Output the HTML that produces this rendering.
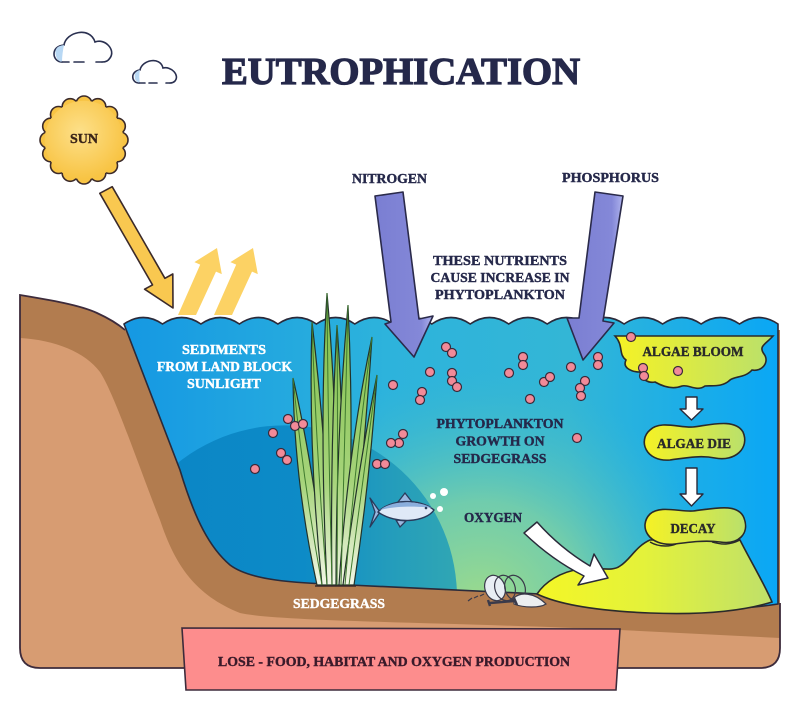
<!DOCTYPE html>
<html><head><meta charset="utf-8"><style>
html,body{margin:0;padding:0;background:#fff;width:800px;height:720px;overflow:hidden;position:relative}
svg{display:block;position:absolute;left:0;top:0}
text{font-family:"Liberation Serif",serif;font-weight:bold}
</style></head><body>
<svg width="800" height="720" viewBox="0 0 800 720" xmlns="http://www.w3.org/2000/svg">
<defs>
<linearGradient id="wbase" x1="124" y1="0" x2="778" y2="0" gradientUnits="userSpaceOnUse">
<stop offset="0" stop-color="#1598e3"/><stop offset="0.4" stop-color="#2db3dc"/><stop offset="0.68" stop-color="#33b6d6"/><stop offset="1" stop-color="#0aa7f5"/>
</linearGradient>
<radialGradient id="wgreen" cx="480" cy="610" r="240" gradientUnits="userSpaceOnUse">
<stop offset="0" stop-color="#a6de84" stop-opacity="0.95"/><stop offset="0.45" stop-color="#8cd69a" stop-opacity="0.7"/><stop offset="1" stop-color="#40bcc8" stop-opacity="0"/>
</radialGradient>
<linearGradient id="dark" x1="120" y1="0" x2="455" y2="0" gradientUnits="userSpaceOnUse">
<stop offset="0" stop-color="#0a84c6"/><stop offset="0.55" stop-color="#0d8bc7"/><stop offset="0.8" stop-color="#239cbc"/><stop offset="1" stop-color="#30a6b4"/>
</linearGradient>
<linearGradient id="yg" x1="0" y1="0" x2="1" y2="0">
<stop offset="0" stop-color="#f6f224"/><stop offset="1" stop-color="#b9e06c"/>
</linearGradient>
<linearGradient id="mound" x1="537" y1="0" x2="772" y2="0" gradientUnits="userSpaceOnUse">
<stop offset="0" stop-color="#f4f626"/><stop offset="0.45" stop-color="#e4f23a"/><stop offset="1" stop-color="#bfe06a"/>
</linearGradient>
<linearGradient id="blade" x1="0" y1="290" x2="0" y2="585" gradientUnits="userSpaceOnUse">
<stop offset="0" stop-color="#7fbf4a"/><stop offset="0.65" stop-color="#a6d47a"/><stop offset="1" stop-color="#f2f6e6"/>
</linearGradient>
<radialGradient id="sun" cx="0.45" cy="0.4" r="0.6">
<stop offset="0" stop-color="#fde08a"/><stop offset="1" stop-color="#f8c444"/>
</radialGradient>
<linearGradient id="purp" x1="0" y1="0" x2="1" y2="0">
<stop offset="0" stop-color="#7a7ed2"/><stop offset="0.8" stop-color="#8488d8"/><stop offset="1" stop-color="#b0b4ee"/>
</linearGradient>
<clipPath id="wclip"><path id="wp" d="M124,324 Q143.2,311 162.5,324 Q181.7,311 200.9,324 Q220.2,311 239.4,324 Q258.6,311 277.9,324 Q297.1,311 316.4,324 Q335.6,311 354.8,324 Q374.1,311 393.3,324 Q412.5,311 431.8,324 Q451,311 470.2,324 Q489.5,311 508.7,324 Q527.9,311 547.2,324 Q566.4,311 585.6,324 Q604.9,311 624.1,324 Q643.3,311 662.6,324 Q681.8,311 701.1,324 Q720.3,311 739.5,324 Q758.8,311 778,324 L778,604 Q690,618 540,594 L350,585 C290,583 250,580 230,565 C210,548 195,520 180,470 Z"/></clipPath>
</defs>

<!-- clouds -->
<g fill="#fff" stroke="#2a3050" stroke-width="1.6" stroke-linecap="round">
<path d="M62,62 C52,62 50,46 64,45 C66,32 90,26 95,42 C105,38 116,50 110,58 C108,61 106,62 102,62" />
<path d="M56,56 C54,48 58,46 64,45 C63,50 62,56 62,62 C58,61 57,59 56,56Z" fill="#b8d8f4" stroke="none"/>
<path d="M62,62 L69,62 M74,62 L84,62 M96,62 L102,62" fill="none"/>
<path d="M139,83 C131,83 130,71 140,70 C142,60 160,56 163,68 C171,66 180,75 175,81 C174,82 173,83 170,83"/>
<path d="M135,79 C134,73 136,71 140,70 C139,74 139,79 140,83 C137,82 136,81 135,79Z" fill="#b8d8f4" stroke="none"/>
<path d="M139,83 L145,83 M149,83 L157,83 M166,83 L170,83" fill="none"/>
</g>

<!-- title -->
<text x="401" y="84" font-size="38" fill="#25284a" stroke="#25284a" stroke-width="1.3" text-anchor="middle" textLength="358" lengthAdjust="spacingAndGlyphs">EUTROPHICATION</text>

<!-- sun -->
<g fill="#f8c444" stroke="#3b2a2a" stroke-width="1.6">
<circle cx="120" cy="140" r="8"/><circle cx="117.3" cy="153.8" r="8"/><circle cx="109.5" cy="165.5" r="8"/><circle cx="97.8" cy="173.3" r="8"/>
<circle cx="84" cy="176" r="8"/><circle cx="70.2" cy="173.3" r="8"/><circle cx="58.5" cy="165.5" r="8"/><circle cx="50.7" cy="153.8" r="8"/>
<circle cx="48" cy="140" r="8"/><circle cx="50.7" cy="126.2" r="8"/><circle cx="58.5" cy="114.5" r="8"/><circle cx="70.2" cy="106.7" r="8"/>
<circle cx="84" cy="104" r="8"/><circle cx="97.8" cy="106.7" r="8"/><circle cx="109.5" cy="114.5" r="8"/><circle cx="117.3" cy="126.2" r="8"/>
</g>
<circle cx="84" cy="140" r="39.3" fill="url(#sun)"/>
<text x="84" y="143" font-size="14" fill="#3a2418" stroke="#3a2418" stroke-width="0.4" text-anchor="middle">SUN</text>

<!-- sun arrow -->
<polygon points="99.8,193.3 112.2,186.7 164.9,278.3 172.8,274 173,308 144.6,289.2 152.5,284.9" fill="#f9c850" stroke="#3b2a2a" stroke-width="1.6" stroke-linejoin="round"/>
<!-- up arrows -->
<polygon points="178,315 200.2,264.6 194.4,262.1 217,248 221.8,274.1 216,271.6 196,315" fill="#fcd264"/>
<polygon points="214,315 236.2,264.6 230.4,262.1 253,248 257.8,274.1 252,271.6 232,315" fill="#fcd264"/>

<!-- land -->
<path d="M20,295 C50,300 80,305 97,313 C108,318 118,324 125,330 L780,330 L780,648 Q780,668 760,668 L40,668 Q20,668 20,648 Z" fill="#b27c4f"/>
<path d="M20,338 C55,340 85,352 100,372 C115,395 140,470 160,520 C175,565 195,595 240,613 C280,622 450,622 620,630 L780,638 L780,648 Q780,668 760,668 L40,668 Q20,668 20,648 Z" fill="#d79c72"/>

<!-- water -->
<g clip-path="url(#wclip)">
<rect x="110" y="305" width="680" height="315" fill="url(#wbase)"/>
<rect x="110" y="305" width="680" height="315" fill="url(#wgreen)"/>
<path d="M114.5,620 A172,172 0 1 1 455.5,620 Z" fill="url(#dark)"/>
</g>
<use href="#wp" fill="none" stroke="#2a2a3a" stroke-width="1.6"/>

<!-- land outline -->
<path d="M125,330 C118,324 108,318 97,313 C80,305 50,300 20,295 L20,648 Q20,668 40,668 L760,668 Q780,668 780,648 L780,603" fill="none" stroke="#3d2b3b" stroke-width="1.8"/>

<!-- nitrogen / phosphorus arrows -->
<polygon points="375,196 403,192 419,319 433,316 414,357 385,324 391,322" fill="url(#purp)" stroke="#2a2a4a" stroke-width="1.6" stroke-linejoin="round"/>
<polygon points="595,192 623,196 603,321 614,323 583,360 567,318 579,318" fill="url(#purp)" stroke="#2a2a4a" stroke-width="1.6" stroke-linejoin="round"/>

<!-- mound -->
<path d="M537,594 C545,582 560,572 580,569 C600,567 612,572 620,566 C630,560 636,546 650,540 L740,540 C750,560 765,585 772,602 C740,612 700,615 650,613 C600,611 560,605 537,594 Z" fill="url(#mound)" stroke="#2a2a2a" stroke-width="1.6"/>

<!-- algae boxes -->
<path d="M615,336 L773,336 C766,344 758,346 764,354 C770,362 762,372 752,370 C745,378 735,376 730,380 C722,388 710,385 705,386 C697,392 688,384 682,386 C672,390 662,386 655,382 C645,384 640,375 640,372 C632,372 622,368 626,360 C618,354 624,346 615,336 Z" fill="url(#yg)" stroke="#2a2a2a" stroke-width="1.6"/>
<path d="M650,430 C660,420 680,428 693,427 C710,425 735,418 743,432 C750,448 735,462 715,458 C700,455 685,458 670,460 C645,462 638,440 650,430 Z" fill="url(#yg)" stroke="#2a2a2a" stroke-width="1.6"/>
<path d="M650,514 C660,505 680,512 693,511 C712,509 738,502 744,518 C750,534 738,545 720,542 C705,540 690,542 675,544 C648,547 638,526 650,514 Z" fill="url(#yg)" stroke="#2a2a2a" stroke-width="1.6"/>
<path d="M650,542 C660,548 672,546 676,544 M712,542 C722,545 730,545 740,540" fill="none" stroke="#2a2a2a" stroke-width="1.4"/>

<!-- white arrows -->
<polygon points="686,397 697,397 697,409 703,409 691.5,420 680,409 686,409" fill="#fff" stroke="#2a2a3a" stroke-width="1.4" stroke-linejoin="round"/>
<polygon points="686,468 697,468 697,494 703,494 691.5,506 680,494 686,494" fill="#fff" stroke="#2a2a3a" stroke-width="1.4" stroke-linejoin="round"/>
<path d="M524,533 Q552,560 584,576 L578,585 L608,578 L594,554 L590,566 Q560,548 537,522 Z" fill="#fff" stroke="#2a2a3a" stroke-width="1.5" stroke-linejoin="round"/>

<!-- sedgegrass -->
<g fill="url(#blade)" stroke="#22332a" stroke-width="1.2">
<path d="M317,585 Q294,480 293,378 Q314,470 327,585 Z"/>
<path d="M322,585 Q308,450 312,322 Q327,450 332,585 Z"/>
<path d="M327,585 Q319,420 327,293 Q339,430 337,585 Z"/>
<path d="M332,585 Q330,450 337,325 Q346,450 341,585 Z"/>
<path d="M336,585 Q336,440 348,305 Q355,450 346,585 Z"/>
<path d="M339,585 Q348,450 372,337 Q364,460 350,585 Z"/>
<path d="M343,585 Q358,470 377,375 Q370,480 354,585 Z"/>
</g>
<g fill="none" stroke="#3f7a2e" stroke-width="1">
<path d="M322,585 Q303,480 293,378"/>
<path d="M327,585 Q316,450 312,322"/>
<path d="M332,585 Q328,430 327,293"/>
<path d="M337,585 Q338,450 337,325"/>
<path d="M341,585 Q345,440 348,305"/>
<path d="M345,585 Q356,455 372,337"/>
<path d="M349,585 Q364,475 377,375"/>
</g>
<line x1="315" y1="586" x2="356" y2="586" stroke="#3a2a2a" stroke-width="1.5"/>

<!-- fish -->
<path d="M380,512 L370,498 L375,512 L370,527 Z" fill="#9ab8e0" stroke="#2a3a5a" stroke-width="1.3" stroke-linejoin="round"/>
<path d="M398,502 L405,493 L412,502 Z M396,520 L400,527 L406,521 Z" fill="#9ab8e0" stroke="#2a3a5a" stroke-width="1.3"/>
<path d="M378,512 C390,499 420,498 434,510 C426,522 396,525 378,512 Z" fill="#dfe9f7" stroke="#2a3a5a" stroke-width="1.4"/>
<path d="M380,510 C392,500 418,500 432,508 C418,506 395,506 380,510 Z" fill="#8aaedc"/>
<circle cx="426" cy="508" r="1.3" fill="#2a3a5a"/>
<g fill="#fff"><circle cx="444" cy="492" r="4"/><circle cx="433" cy="496" r="3"/><circle cx="440" cy="509" r="3"/></g>

<!-- skeleton -->
<g fill="none" stroke="#3a3a4a" stroke-width="1.2">
<ellipse cx="495" cy="588" rx="10" ry="13" fill="#e8eef4" transform="rotate(-20 495 588)"/>
<ellipse cx="505" cy="588" rx="10" ry="13" transform="rotate(-20 505 588)"/>
<ellipse cx="515" cy="588" rx="10" ry="13" transform="rotate(-20 515 588)"/>
<path d="M514,598 C520,592 534,592 546,604 C540,608 524,608 514,604 Z" fill="#eceef0"/>
<path d="M490,603 L514,601 M488,600 L490,606 M514,598 L517,605" stroke-width="2.4"/>
<path d="M468,601 L472,598 M474,598 L478,596 M480,596 L484,594"/>
</g>

<!-- pink box -->
<polygon points="182,628 620,629 616,690 186,690" fill="#fd8d8d" stroke="#3d2b3b" stroke-width="1.6"/>

<!-- plankton dots -->
<g fill="#f28a98" stroke="#3a2a3a" stroke-width="1.2">
<circle cx="446" cy="347" r="4.5"/><circle cx="452" cy="353" r="4.5"/><circle cx="430" cy="372" r="4.5"/><circle cx="393" cy="385" r="4.5"/>
<circle cx="452" cy="373" r="4.5"/><circle cx="452" cy="381" r="4.5"/><circle cx="457" cy="387" r="4.5"/><circle cx="422" cy="392" r="4.5"/>
<circle cx="420" cy="400" r="4.5"/><circle cx="523" cy="357" r="4.5"/><circle cx="523" cy="365" r="4.5"/><circle cx="509" cy="373" r="4.5"/>
<circle cx="544" cy="382" r="4.5"/><circle cx="550" cy="377" r="4.5"/><circle cx="530" cy="399" r="4.5"/><circle cx="571" cy="367" r="4.5"/>
<circle cx="598" cy="357" r="4.5"/><circle cx="598" cy="365" r="4.5"/><circle cx="585" cy="381" r="4.5"/><circle cx="580" cy="388" r="4.5"/>
<circle cx="581" cy="396" r="4.5"/><circle cx="577" cy="438" r="4.5"/><circle cx="403" cy="434" r="4.5"/><circle cx="399" cy="443" r="4.5"/>
<circle cx="391" cy="443" r="4.5"/><circle cx="377" cy="464" r="4.5"/><circle cx="385" cy="464" r="4.5"/><circle cx="631" cy="337" r="4.5"/>
<circle cx="288" cy="419" r="4.5"/><circle cx="295" cy="426" r="4.5"/><circle cx="303" cy="424" r="4.5"/><circle cx="273" cy="433" r="4.5"/>
<circle cx="281" cy="453" r="4.5"/><circle cx="287" cy="460" r="4.5"/><circle cx="255" cy="469" r="4.5"/>
<circle cx="643" cy="368" r="4.5"/><circle cx="644" cy="376" r="4.5"/><circle cx="678" cy="371" r="4.5"/>
</g>

<!-- labels -->
<g fill="#25284a" stroke="#25284a" stroke-width="0.4" text-anchor="middle">
<text x="389.5" y="183" font-size="14" textLength="75" lengthAdjust="spacingAndGlyphs">NITROGEN</text>
<text x="610.5" y="182" font-size="14" textLength="97" lengthAdjust="spacingAndGlyphs">PHOSPHORUS</text>
<text x="500" y="265" font-size="14" textLength="134" lengthAdjust="spacingAndGlyphs">THESE NUTRIENTS</text>
<text x="500" y="282" font-size="14" textLength="139" lengthAdjust="spacingAndGlyphs">CAUSE INCREASE IN</text>
<text x="500" y="299" font-size="14" textLength="130" lengthAdjust="spacingAndGlyphs">PHYTOPLANKTON</text>
<text x="500" y="428" font-size="14" textLength="127" lengthAdjust="spacingAndGlyphs">PHYTOPLANKTON</text>
<text x="500" y="445.5" font-size="14" textLength="89" lengthAdjust="spacingAndGlyphs">GROWTH ON</text>
<text x="500" y="463" font-size="14" textLength="93" lengthAdjust="spacingAndGlyphs">SEDGEGRASS</text>
<text x="493" y="522" font-size="14" textLength="58" lengthAdjust="spacingAndGlyphs">OXYGEN</text>
</g>
<g fill="#fff" stroke="#fff" stroke-width="0.4" text-anchor="middle">
<text x="224" y="354" font-size="14" textLength="84" lengthAdjust="spacingAndGlyphs">SEDIMENTS</text>
<text x="224.5" y="371" font-size="14" textLength="135" lengthAdjust="spacingAndGlyphs">FROM LAND BLOCK</text>
<text x="224" y="388" font-size="14" textLength="74" lengthAdjust="spacingAndGlyphs">SUNLIGHT</text>
<text x="339" y="608" font-size="14" textLength="92" lengthAdjust="spacingAndGlyphs">SEDGEGRASS</text>
</g>
<g fill="#2a2a2a" stroke="#2a2a2a" stroke-width="0.4" text-anchor="middle">
<text x="693" y="356" font-size="13.5" textLength="101" lengthAdjust="spacingAndGlyphs">ALGAE BLOOM</text>
<text x="694" y="448" font-size="13.5" textLength="74" lengthAdjust="spacingAndGlyphs">ALGAE DIE</text>
<text x="693" y="533" font-size="13.5" textLength="45" lengthAdjust="spacingAndGlyphs">DECAY</text>
</g>
<text x="394" y="666" font-size="14" fill="#3a1a2a" stroke="#3a1a2a" stroke-width="0.4" text-anchor="middle" textLength="352" lengthAdjust="spacingAndGlyphs">LOSE - FOOD, HABITAT AND OXYGEN PRODUCTION</text>
</svg>
</body></html>
